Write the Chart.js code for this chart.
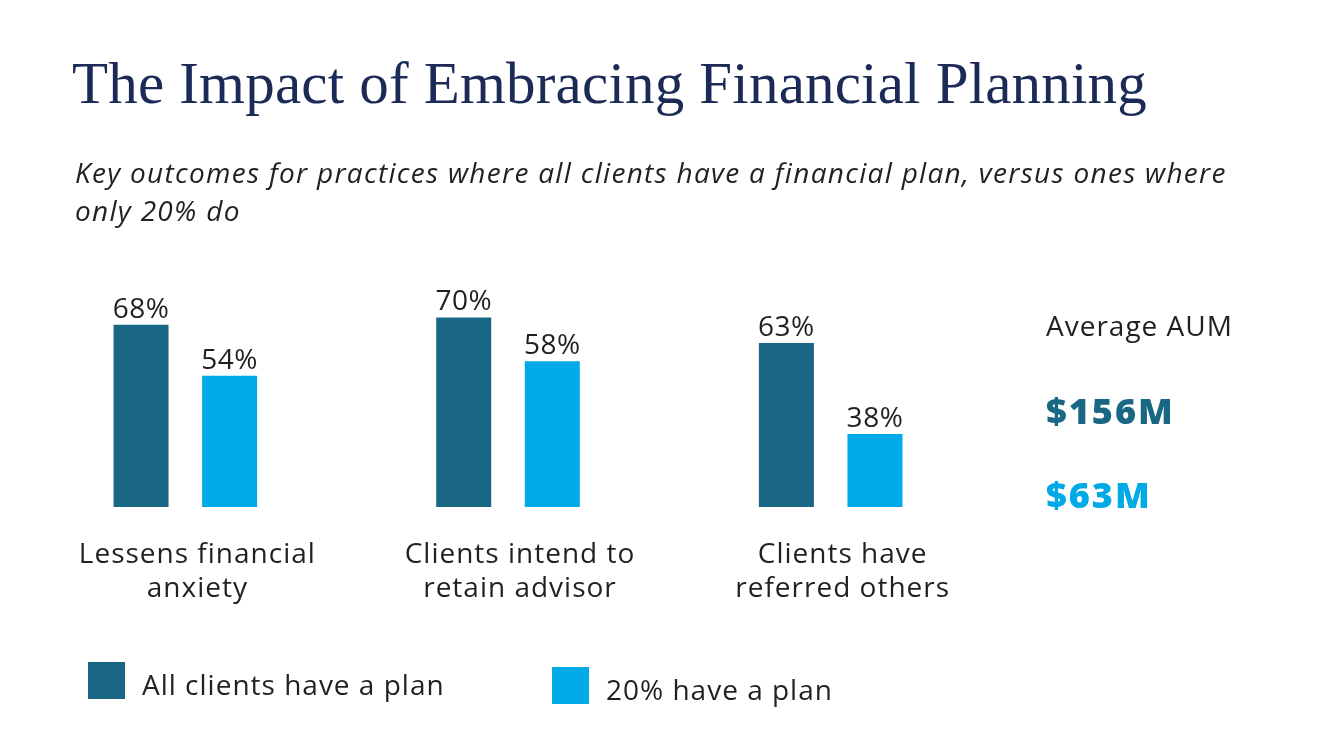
<!DOCTYPE html>
<html>
<head>
<meta charset="utf-8">
<script src="https://cdn.jsdelivr.net/npm/chart.js@4/dist/chart.umd.min.js"></script>
<style>
  html, body { margin: 0; padding: 0; background: #fff; }
  #page { position: relative; width: 1318px; height: 748px; overflow: hidden; font-family: "Open Sans", sans-serif; color: #231f20; }
  #chart { position: absolute; left: 0; top: 0; }
  .title { position: absolute; left: 72px; top: 49px; font-family: "Liberation Serif", serif; font-size: 59px; letter-spacing: 0.2px; color: #1c2a57; white-space: nowrap; }
  .subtitle { position: absolute; left: 75px; top: 153px; font-style: italic; font-size: 28px; letter-spacing: 1.3px; line-height: 38px; white-space: nowrap; }
  .aum { position: absolute; left: 1046px; white-space: nowrap; }
  .aum.head { top: 306px; font-size: 28px; letter-spacing: 1px; }
  .aum.val { font-size: 36px; font-weight: 800; letter-spacing: 2px; }
  .legend-item { position: absolute; display: flex; align-items: center; font-size: 28px; letter-spacing: 1px; white-space: nowrap; }
  .legend-item span.txt { position: relative; top: 4px; }
  .legend-item span.box { width: 37px; height: 37px; margin-right: 17px; display: inline-block; }
</style>
</head>
<body>
<div id="page">
  <canvas id="chart" width="1318" height="748"></canvas>
  <div class="title">The Impact of Embracing Financial Planning</div>
  <div class="subtitle">Key outcomes for practices where all clients have a financial plan, versus ones where<br>only 20% do</div>
  <div class="aum head">Average AUM</div>
  <div id="aumValues"></div>
  <div id="legend"></div>
</div>
<script>
  const categories = [
    ['Lessens financial', 'anxiety'],
    ['Clients intend to', 'retain advisor'],
    ['Clients have', 'referred others']
  ];
  const seriesNames = ['All clients have a plan', '20% have a plan'];
  const allClients = [68, 70, 63];
  const twentyPct = [54, 58, 38];
  const aumValues = ['$156M', '$63M'];
  const colors = ['#1a6785', '#00aae6'];

  // value labels above bars and two-line category labels below
  const labelPlugin = {
    id: 'labels',
    afterDatasetsDraw(chart) {
      const ctx = chart.ctx;
      ctx.save();
      ctx.fillStyle = '#231f20';
      ctx.textAlign = 'center';
      ctx.textBaseline = 'alphabetic';
      ctx.font = '28px "Open Sans", sans-serif';
      ctx.letterSpacing = '0.5px';
      chart.data.datasets.forEach((ds, i) => {
        chart.getDatasetMeta(i).data.forEach((bar, j) => {
          ctx.fillText(ds.data[j] + '%', bar.x, bar.y - 7);
        });
      });
      const xs = chart.scales.x;
      const base = chart.scales.y.bottom;
      ctx.letterSpacing = '1px';
      categories.forEach((lines, j) => {
        const cx = xs.getPixelForValue(j) + 12;
        lines.forEach((ln, k) => ctx.fillText(ln, cx, base + 56 + k * 34));
      });
      ctx.restore();
    }
  };

  const chart = new Chart(document.getElementById('chart'), {
    type: 'bar',
    data: {
      labels: categories.map(c => c.join(' ')),
      datasets: [
        { label: seriesNames[0], data: allClients, backgroundColor: colors[0] },
        { label: seriesNames[1], data: twentyPct, backgroundColor: colors[1] }
      ]
    },
    options: {
      responsive: false,
      animation: false,
      events: [],
      layout: { padding: { left: 24, right: 326, top: 281, bottom: 241 } },
      categoryPercentage: 0.549,
      barPercentage: 0.621,
      plugins: { legend: { display: false }, tooltip: { enabled: false } },
      scales: {
        x: { display: false },
        y: { display: false, min: 18, max: 80 }
      }
    },
    plugins: [labelPlugin]
  });

  const aumBox = document.getElementById('aumValues');
  const aumTops = [386, 470];
  aumValues.forEach((v, i) => {
    const d = document.createElement('div');
    d.className = 'aum val';
    d.style.top = aumTops[i] + 'px';
    d.style.color = colors[i];
    d.textContent = v;
    aumBox.appendChild(d);
  });

  const legendBox = document.getElementById('legend');
  const legendPos = [[88, 661], [552, 666]];
  seriesNames.forEach((name, i) => {
    const item = document.createElement('div');
    item.className = 'legend-item';
    item.style.left = legendPos[i][0] + 'px';
    item.style.top = legendPos[i][1] + 'px';
    item.innerHTML = '<span class="box" style="background:' + colors[i] + '"></span><span class="txt">' + name + '</span>';
    legendBox.appendChild(item);
  });
</script>
</body>
</html>
